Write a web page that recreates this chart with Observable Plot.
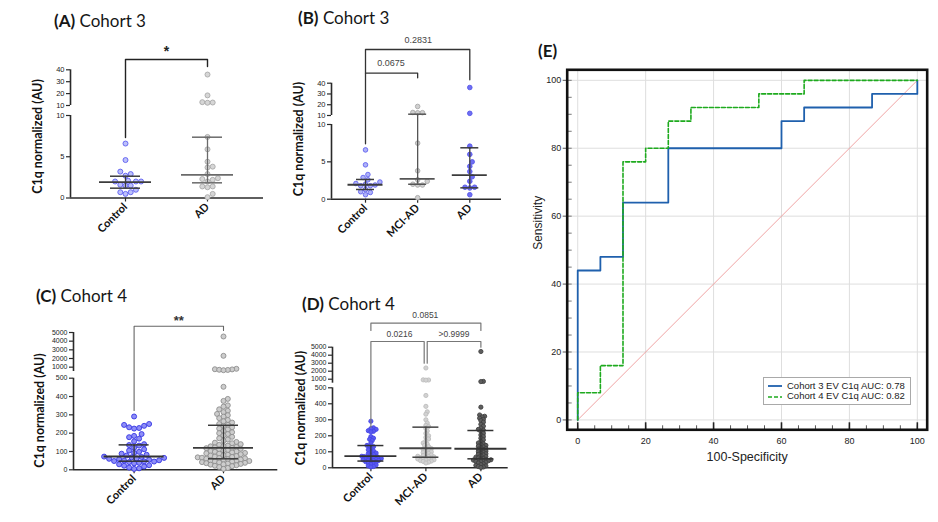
<!DOCTYPE html>
<html>
<head>
<meta charset="utf-8">
<script src="https://cdn.jsdelivr.net/npm/d3@7"></script>
<script src="https://cdn.jsdelivr.net/npm/@observablehq/plot@0.6"></script>
<style>
  html, body { margin: 0; padding: 0; background: #fff; }
  #fig { position: relative; width: 938px; height: 522px; overflow: hidden; background: #fff; }
  #fig svg { position: absolute; overflow: visible; }
  .title { position: absolute; font-family: Lato, "Open Sans", sans-serif; font-size: 17px; line-height: 1; color: #161616; white-space: nowrap; }
  .title b { font-weight: 700; }
  .legend { position: absolute; border: 1px solid #a9a9a9; background: #fff; font-family: "Liberation Sans", Arial, sans-serif; font-size: 9.5px; color: #222; }
  .legend .row { position: absolute; left: 4px; white-space: nowrap; line-height: 1; }
  .legend svg { position: static !important; vertical-align: middle; margin-right: 5px; }
</style>
</head>
<body>
<div id="fig"></div>
<script>
// ---------- data ----------
const groups2 = ["Control", "AD"];
const groups3 = ["Control", "MCI-AD", "AD"];

// Cohort 3, two groups
const controlA = [6.6, 4.6, 3.2, 2.9, 2.7, 2.1, 2.0, 2.0, 2.0, 1.6, 1.5, 1.5, 1.0, 0.7, 0.7, 0.5];
const adA = [36, 18.5, 12.8, 12.5, 12.3, 7.4, 5.9, 4.4, 3.8, 3.7, 2.9, 2.4, 2.3, 2.2, 2.0, 1.4, 1.4, 1.3, 0.5, 0.1];
const medA = [1.92, 2.81];
const q1A = [1.19, 1.84];
const q3A = [2.64, 7.37];
const sigA = ["*"];

// Cohort 3, three groups
const controlB = [6.6, 4.6, 3.3, 2.9, 2.6, 2.3, 2.1, 2.0, 1.9, 1.8, 1.8, 1.3, 1.0, 0.9, 0.6];
const mciB = [18.4, 12.8, 12.6, 12.5, 7.5, 3.8, 2.6, 2.4, 2.0, 1.9, 1.9, 0.2];
const adB = [36, 12, 7.1, 6.0, 5.0, 4.4, 3.7, 3.0, 2.4, 1.6, 1.6, 1.5, 0.6];
const medB = [1.93, 2.73, 3.21];
const q1B = [1.3, 2.0, 1.52];
const q3B = [2.64, 11.2, 6.88];
const sigB = ["0.2831", "0.0675"];

// Cohort 4, two groups
const controlC = [291, 250, 245, 240, 232, 228, 225, 195, 185, 178, 170, 155, 140,
  135, 132, 120, 112, 105, 98, 92, 88, 82, 78,
  72, 70, 68, 65, 62, 60, 58, 55, 52, 50, 48, 46, 45, 42, 38, 35, 30, 25, 22, 18, 12, 8, 5];
const adC = [4540, 2310, 810, 760, 740, 700, 680, 650,
  453, 387, 376, 352, 345, 330, 322, 315, 305, 298, 290, 282, 272, 265, 258, 250, 245,
  240, 232, 225, 220, 212, 205, 200, 195, 188, 180, 172, 165, 158, 152, 148, 145, 140, 136, 132, 130, 128, 125, 122, 120,
  118, 115, 112, 108, 105, 102, 100, 98, 95, 92, 90, 88, 85, 82, 80, 78, 75, 72, 70, 68, 66, 64, 63,
  60, 58, 56, 55, 52, 50, 48, 46, 45, 42, 40, 38, 36, 34, 32, 30, 28, 25, 22, 20, 15, 10, 5];
const medC = [72.6, 120];
const q1C = [47, 60];
const q3C = [136, 243];
const sigC = ["**"];

// Cohort 4, three groups
const controlD = controlC;
const mciD = [2400, 920, 900, 880,
  452, 384, 350, 335, 300, 280, 265, 258,
  245, 230, 215, 200, 190, 180, 168, 155, 148, 140, 132, 125, 120,
  115, 110, 105, 100, 95, 90, 85, 80, 76, 72, 70, 68, 66,
  62, 60, 58, 55, 52, 50, 48, 45, 42, 40, 35, 30];
const adD = [4460, 720, 700,
  379, 330, 322, 318, 310, 302, 295, 285, 272, 260, 248, 240, 235,
  228, 215, 205, 195, 185, 175, 165, 155, 150, 145, 140, 135, 130, 125, 120, 116,
  112, 108, 104, 100, 96, 92, 88, 84, 80, 75, 70, 66, 62, 58, 55, 53,
  50, 48, 46, 44, 42, 40, 38, 35, 30, 25, 20, 15, 12, 8, 5, 2];
const medD = [72.5, 122, 119];
const q1D = [42, 66, 56];
const q3D = [139, 254, 233];
const sigD = ["0.0851", "0.0216", ">0.9999"];

// ROC curves (100-specificity vs sensitivity)
const rocFpr3 = [0, 0, 6.67, 13.33, 26.67, 60, 66.67, 86.67, 100];
const rocTpr3 = [0, 44, 48, 64, 80, 88, 92, 96, 100];
const rocFpr4 = [0, 0, 6.67, 13.33, 20, 26.67, 33.33, 53.33, 66.67, 100];
const rocTpr4 = [0, 8, 16, 76, 80, 88, 92, 96, 100, 100];
const rocLabels = ["Cohort 3 EV C1q AUC: 0.78", "Cohort 4 EV C1q AUC: 0.82"];
const chance = [0, 100];
const rocTicks = [0, 20, 40, 60, 80, 100];

const yLabel = "C1q normalized (AU)";

// ---------- helpers ----------
const fig = document.getElementById("fig");
const sans = "'Liberation Sans', Arial, sans-serif";
const humanist = "Lato, 'Open Sans', sans-serif";

function addTitle(left, top, bold, rest) {
  const d = document.createElement("div");
  d.className = "title";
  d.style.left = left + "px";
  d.style.top = top + "px";
  d.innerHTML = `<b>${bold}</b>${rest ? " " + rest : ""}`;
  fig.appendChild(d);
}

// deterministic beeswarm: horizontal pixel offsets so dots of similar height sit side by side
function swarm(us, gap) {
  const order = d3.range(us.length).sort((a, b) => us[a] - us[b]);
  const placed = [];
  const off = new Array(us.length).fill(0);
  for (const i of order) {
    const y = us[i];
    const near = placed.filter(p => Math.abs(p.y - y) < gap);
    let best = 0;
    for (let k = 0; k < 400; k++) {
      const c = k === 0 ? 0 : (k % 2 ? 1 : -1) * Math.ceil(k / 2) * gap * 0.5;
      if (near.every(p => (p.x - c) ** 2 + (p.y - y) ** 2 >= gap * gap)) { best = c; break; }
    }
    off[i] = best;
    placed.push({x: best, y});
  }
  return off;
}

// scatter with median / IQR on a broken y axis
function scatterPanel(cfg) {
  const {groups, series, med, q1, q3, seg} = cfg;
  const loMap = v => v / seg.split * seg.loPx;
  const hiMap = v => seg.hiPx0 + (v - seg.split) / (seg.max - seg.split) * (seg.hiPx1 - seg.hiPx0);
  const brk = v => (v <= seg.split ? loMap(v) : hiMap(v));
  const toX = px => (px - cfg.c0) / cfg.step;
  const xDom = [toX(cfg.x0), toX(cfg.x1)];
  const innerH = cfg.yb - cfg.yt;
  const idx = d3.range(groups.length);

  const tickPairs = [...cfg.ticksLo.map(t => [loMap(t), t]), ...cfg.ticksHi.map(t => [hiMap(t), t])];
  const tickLabel = new Map(tickPairs);

  const marks = [
    Plot.ruleY([0], {stroke: cfg.axisColor, strokeWidth: 1.6}),
    Plot.ruleX([[0, seg.split, loMap], [seg.split, seg.max, hiMap]], {
      x: () => xDom[0], y1: d => d[2](d[0]), y2: d => d[2](d[1]),
      stroke: cfg.axisColor, strokeWidth: 1.6
    }),
    Plot.axisY(tickPairs.map(d => d[0]), {
      tickFormat: u => String(tickLabel.get(u)), tickSize: 4, tickPadding: 2,
      fontSize: cfg.tickFont, stroke: cfg.axisColor, strokeWidth: 1.2, label: null
    }),
    Plot.axisX(idx, {
      tickFormat: i => groups[i], tickRotate: -45, tickSize: 4, tickPadding: 3,
      fontSize: 11, fontWeight: "bold", fontFamily: humanist, fill: "#111",
      stroke: cfg.axisColor, strokeWidth: 1.2, label: null
    })
  ];

  series.forEach((vals, g) => {
    const us = vals.map(brk);
    const off = swarm(us, cfg.gaps[g]);
    const pts = vals.map((v, j) => ({v, u: us[j], x: g + off[j] / cfg.step}));
    marks.push(Plot.dot(pts, {
      x: "x", y: "u", r: cfg.r, fill: cfg.fills[g], stroke: cfg.strokes[g], strokeWidth: 0.9
    }));
  });

  const mh = cfg.medHalf / cfg.step, ih = cfg.iqrHalf / cfg.step;
  idx.forEach(g => {
    const c = cfg.lineColors[g];
    marks.push(
      Plot.ruleX([g], {x: d => d, y1: () => brk(q1[g]), y2: () => brk(q3[g]), stroke: c, strokeWidth: 1.3}),
      Plot.ruleY([q1[g], q3[g]], {y: brk, x1: () => g - ih, x2: () => g + ih, stroke: c, strokeWidth: 1.5}),
      Plot.ruleY([med[g]], {y: brk, x1: () => g - mh, x2: () => g + mh, stroke: c, strokeWidth: 1.8})
    );
  });

  const brPts = cfg.brackets.flatMap((b, k) => [
    {k, x: b.a, u: b.la}, {k, x: b.a, u: b.top}, {k, x: b.b, u: b.top}, {k, x: b.b, u: b.lb}
  ]);
  marks.push(
    Plot.line(brPts, {x: "x", y: "u", z: "k", stroke: cfg.brColor, strokeWidth: cfg.brWidth, curve: "linear"}),
    Plot.text(cfg.labels, {
      x: "x", y: "u", text: "text", fontSize: cfg.labelFont, fontWeight: cfg.labelWeight || "normal",
      fill: cfg.labelColor, fontFamily: sans
    }),
    Plot.text([yLabel], {
      x: () => xDom[0], y: () => cfg.labelU, dx: -cfg.labelDx, rotate: -90, text: d => d,
      fontSize: 12.5, fontWeight: "bold", fontFamily: humanist, fill: "#111"
    })
  );

  const svg = Plot.plot({
    width: cfg.mL + cfg.x1 - cfg.x0 + cfg.mR,
    height: cfg.mT + innerH + cfg.mB,
    marginLeft: cfg.mL, marginRight: cfg.mR, marginTop: cfg.mT, marginBottom: cfg.mB,
    style: {fontFamily: sans, color: "#222", background: "transparent", overflow: "visible"},
    x: {domain: xDom, label: null},
    y: {domain: [0, innerH], label: null},
    marks
  });
  svg.style.left = (cfg.x0 - cfg.mL) + "px";
  svg.style.top = (cfg.yt - cfg.mT) + "px";
  fig.appendChild(svg);
}

// ---------- panel A ----------
addTitle(54, 12, "(A)", "Cohort 3");
scatterPanel({
  groups: groups2, series: [controlA, adA], med: medA, q1: q1A, q3: q3A,
  x0: 70, x1: 263, c0: 125, step: 82, yb: 197.5, yt: 38,
  mL: 50, mR: 6, mT: 0, mB: 50,
  seg: {split: 10, loPx: 82.5, hiPx0: 92.5, max: 40, hiPx1: 128.2},
  ticksLo: [0, 5, 10], ticksHi: [10, 20, 30, 40], tickFont: 7.5,
  r: 2.5, gaps: [5.2, 5.2],
  fills: ["#bcc0fa", "#d6d6d6"], strokes: ["#5f5ff0", "#a9a9a9"],
  lineColors: ["#3c3c3c", "#6a6a6a"], axisColor: "#2a2a2a",
  medHalf: 26, iqrHalf: 15,
  brackets: [{a: 0, b: 1, top: 138.5, la: 60.5, lb: 131.5}], brColor: "#222", brWidth: 1.4,
  labels: [{text: sigA[0], x: 0.5, u: 146}], labelFont: 14, labelWeight: "bold", labelColor: "#222",
  labelU: 61.5, labelDx: 33
});

// ---------- panel B ----------
addTitle(298, 9, "(B)", "Cohort 3");
scatterPanel({
  groups: groups3, series: [controlB, mciB, adB], med: medB, q1: q1B, q3: q3B,
  x0: 331, x1: 501, c0: 365, step: 52.15, yb: 198.7, yt: 28,
  mL: 50, mR: 6, mT: 0, mB: 50,
  seg: {split: 10, loPx: 74.7, hiPx0: 83.7, max: 40, hiPx1: 116},
  ticksLo: [0, 5, 10], ticksHi: [10, 20, 30, 40], tickFont: 7.5,
  r: 2.3, gaps: [4.8, 4.8, 4.8],
  fills: ["#aeb2f8", "#d0d0d0", "#6f6ff2"], strokes: ["#6262ef", "#a8a8a8", "#5656ea"],
  lineColors: ["#3c3c3c", "#555", "#3c3c3c"], axisColor: "#2a2a2a",
  medHalf: 17.5, iqrHalf: 9,
  brackets: [
    {a: 0, b: 2, top: 149.7, la: 126, lb: 119.4},
    {a: 0, b: 1, top: 126, la: 55.4, lb: 121.4}
  ], brColor: "#333", brWidth: 1.3,
  labels: [{text: sigB[0], x: 1.01, u: 158.7}, {text: sigB[1], x: 0.49, u: 135.7}],
  labelFont: 9, labelColor: "#444",
  labelU: 60.2, labelDx: 33
});

// ---------- panel C ----------
addTitle(36, 287, "(C)", "Cohort 4");
scatterPanel({
  groups: groups2, series: [controlC, adC], med: medC, q1: q1C, q3: q3C,
  x0: 72.7, x1: 277, c0: 133.3, step: 89.4, yb: 469.3, yt: 310,
  mL: 50, mR: 6, mT: 0, mB: 50,
  seg: {split: 500, loPx: 91.6, hiPx0: 98.3, max: 5000, hiPx1: 137.3},
  ticksLo: [0, 100, 200, 300, 400, 500], ticksHi: [1000, 2000, 3000, 4000, 5000], tickFont: 7,
  r: 2.5, gaps: [5.0, 4.3],
  fills: ["#8e8ef6", "#cdcdcd"], strokes: ["#3434e4", "#8e8e8e"],
  lineColors: ["#333", "#3a3a3a"], axisColor: "#2a2a2a",
  medHalf: 30, iqrHalf: 15,
  brackets: [{a: 0, b: 1, top: 143.6, la: 59.3, lb: 139.3}], brColor: "#666", brWidth: 1.1,
  labels: [{text: sigC[0], x: 0.5, u: 149}], labelFont: 13, labelWeight: "bold", labelColor: "#333",
  labelU: 59.3, labelDx: 34
});

// ---------- panel D ----------
addTitle(302, 295, "(D)", "Cohort 4");
scatterPanel({
  groups: groups3, series: [controlD, mciD, adD], med: medD, q1: q1D, q3: q3D,
  x0: 332.3, x1: 508, c0: 370.7, step: 55, yb: 467.3, yt: 303,
  mL: 50, mR: 6, mT: 0, mB: 50,
  seg: {split: 500, loPx: 80, hiPx0: 84.6, max: 5000, hiPx1: 120.6},
  ticksLo: [0, 100, 200, 300, 400, 500], ticksHi: [1000, 2000, 3000, 4000, 5000], tickFont: 7,
  r: 2.1, gaps: [2.6, 2.7, 2.5],
  fills: ["#5a5af0", "#d2d2d2", "#5e5e5e"], strokes: ["#4646e6", "#bdbdbd", "#3f3f3f"],
  lineColors: ["#333", "#444", "#333"], axisColor: "#2a2a2a",
  medHalf: 26, iqrHalf: 13,
  brackets: [
    {a: 0, b: 2, top: 144.6, la: 137.3, lb: 137.3},
    {a: 0, b: 0.969, top: 126.3, la: 40.6, lb: 104.6},
    {a: 1.024, b: 2, top: 126.3, la: 104.6, lb: 120.6}
  ], brColor: "#777", brWidth: 1.2,
  labels: [{text: sigD[0], x: 0.99, u: 152.3}, {text: sigD[1], x: 0.52, u: 134}, {text: sigD[2], x: 1.51, u: 134}],
  labelFont: 8.5, labelColor: "#444",
  labelU: 59.8, labelDx: 32
});

// ---------- panel E: ROC ----------
addTitle(538, 42, "(E)", "");
{
  const x0 = 566.7, x1 = 926.7, yt = 69.3, yb = 429.3;
  const mL = 46.7, mR = 6, mT = 9.3, mB = 45;
  const minor = d3.range(0, 101, 5);
  const roc3 = rocFpr3.map((x, i) => ({x, y: rocTpr3[i]}));
  const roc4 = rocFpr4.map((x, i) => ({x, y: rocTpr4[i]}));
  const svg = Plot.plot({
    width: mL + (x1 - x0) + mR, height: mT + (yb - yt) + mB,
    marginLeft: mL, marginRight: mR, marginTop: mT, marginBottom: mB,
    style: {fontFamily: sans, color: "#222", background: "transparent", overflow: "visible"},
    x: {domain: [-3.1, 102.9], label: null},
    y: {domain: [-2.9, 103.1], label: null},
    marks: [
      Plot.gridX(rocTicks, {stroke: "#dedede", strokeOpacity: 1, strokeWidth: 1}),
      Plot.gridY(rocTicks, {stroke: "#dedede", strokeOpacity: 1, strokeWidth: 1}),
      Plot.axisX(rocTicks, {tickSize: 0, tickPadding: 8, fontSize: 9, label: null}),
      Plot.axisX(minor, {tickSize: -4, text: null, label: null, stroke: "#555", strokeWidth: 1}),
      Plot.axisX(rocTicks, {tickSize: -7, text: null, label: null, stroke: "#222", strokeWidth: 1.6}),
      Plot.axisY(rocTicks, {tickSize: 4, tickPadding: 2, fontSize: 9, label: null, stroke: "#555"}),
      Plot.axisY(minor, {tickSize: -5, text: null, label: null, stroke: "#777", strokeWidth: 1}),
      Plot.line(chance.map(v => ({x: v, y: v})), {x: "x", y: "y", stroke: "#ee9a9a", strokeWidth: 0.9}),
      Plot.line(roc3, {x: "x", y: "y", curve: "step-after", stroke: "#1f60ad", strokeWidth: 1.8}),
      Plot.line(roc4, {x: "x", y: "y", curve: "step-after", stroke: "#1eaa1e", strokeWidth: 1.6, strokeDasharray: "4,2"}),
      Plot.frame({stroke: "#111", strokeWidth: 2.6}),
      Plot.text(["Sensitivity"], {frameAnchor: "left", rotate: -90, dx: -29, text: d => d, fontSize: 12, fill: "#222"}),
      Plot.text(["100-Specificity"], {frameAnchor: "bottom", dy: 31, text: d => d, fontSize: 12.5, fill: "#222"})
    ]
  });
  svg.style.left = (x0 - mL) + "px";
  svg.style.top = (yt - mT) + "px";
  fig.appendChild(svg);

  // legend
  const lg = document.createElement("div");
  lg.className = "legend";
  Object.assign(lg.style, {left: "763px", top: "377px", width: "146px", height: "26px"});
  const styles = [{stroke: "#1f60ad", dash: "", w: 1.8}, {stroke: "#1eaa1e", dash: "4,2", w: 1.6}];
  rocLabels.forEach((t, i) => {
    const row = document.createElement("div");
    row.className = "row";
    row.style.top = (3 + i * 10.3) + "px";
    const s = styles[i];
    row.innerHTML = `<svg width="14" height="6"><line x1="0" x2="14" y1="3" y2="3" stroke="${s.stroke}" stroke-width="${s.w}" stroke-dasharray="${s.dash}"/></svg>${t}`;
    lg.appendChild(row);
  });
  fig.appendChild(lg);
}
</script>
</body>
</html>
